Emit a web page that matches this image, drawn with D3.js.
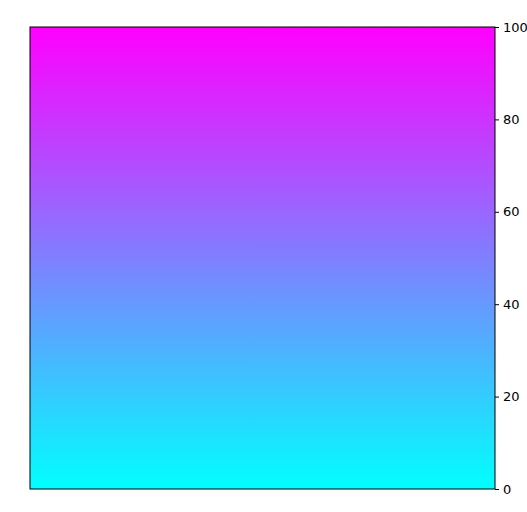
<!DOCTYPE html>
<html>
<head>
<meta charset="utf-8">
<script src="https://cdn.jsdelivr.net/npm/d3@7"></script>
<style>
  body { margin: 0; background: #fff; }
  text { font-family: "DejaVu Sans", sans-serif; }
</style>
</head>
<body>
<svg id="chart" width="527" height="512"></svg>
<script>
// colorbar range, ticks and colormap endpoints ("cool")
const domain = [0, 100];
const tickValues = [0, 20, 40, 60, 80, 100];
const cmapStops = ['#00ffff', '#ff00ff'];

const margin = { top: 27, right: 32, bottom: 23, left: 30 };
const width = 527 - margin.left - margin.right;
const height = 512 - margin.top - margin.bottom;

const svg = d3.select('#chart');
const g = svg.append('g').attr('transform', `translate(${margin.left},${margin.top})`);

const y = d3.scaleLinear().domain(domain).range([height, 0]);

const grad = svg.append('defs').append('linearGradient')
  .attr('id', 'cbar')
  .attr('x1', 0).attr('y1', 1).attr('x2', 0).attr('y2', 0);
grad.selectAll('stop')
  .data(cmapStops)
  .enter()
  .append('stop')
  .attr('offset', (d, i) => i / (cmapStops.length - 1))
  .attr('stop-color', d => d);

g.append('rect')
  .attr('x', 0)
  .attr('y', y(domain[1]))
  .attr('width', width)
  .attr('height', y(domain[0]) - y(domain[1]))
  .attr('fill', 'url(#cbar)');

g.append('rect')
  .attr('width', width)
  .attr('height', height)
  .attr('fill', 'none')
  .attr('stroke', '#000')
  .attr('stroke-width', 1);

const axis = g.append('g')
  .attr('transform', `translate(${width},0)`)
  .call(d3.axisRight(y).tickValues(tickValues).tickSize(4).tickPadding(4));
axis.select('.domain').remove();
axis.selectAll('text').attr('font-size', 13).attr('fill', '#000');
</script>
</body>
</html>
